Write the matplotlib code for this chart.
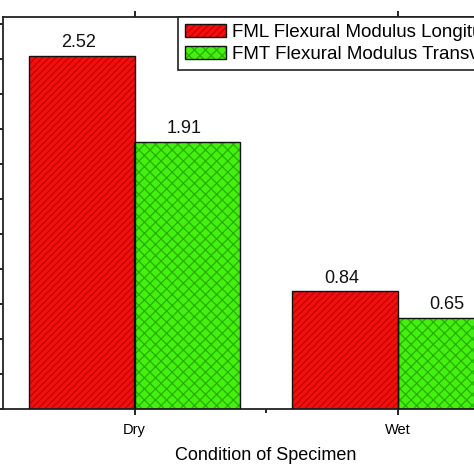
import matplotlib
matplotlib.use("Agg")
import matplotlib.pyplot as plt
import numpy as np
from matplotlib.patches import Patch

plt.rcParams['font.family'] = ['Liberation Sans', 'DejaVu Sans']
plt.rcParams['hatch.linewidth'] = 0.9

categories = ["Dry", "Wet"]
fml_values = [2.52, 0.84]
fmt_values = [1.91, 0.65]
fml_label = "FML Flexural Modulus Longitudinal"
fmt_label = "FMT Flexural Modulus Transverse"
yticks = [0, 0.25, 0.5, 0.75, 1.0, 1.25, 1.5, 1.75, 2.0, 2.25, 2.5, 2.75]

red_face, red_hatch = '#f01010', '#c80000'
green_face, green_hatch = '#44f010', '#28b000'
red_pat, green_pat = '/////', 'xxx'

W = 474
fig = plt.figure(figsize=(4.74, 4.74), dpi=100)
left_px, right_px, top_px, bot_px = 3, 529, 17, 409
ax = fig.add_axes([left_px / W, (W - bot_px) / W,
                   (right_px - left_px) / W, (bot_px - top_px) / W])

x = np.arange(1, len(categories) + 1)
bw = 0.4

def draw(xpos, vals, face, hcol, hatch):
    ax.bar(xpos, vals, bw, color=face, edgecolor=hcol, hatch=hatch, linewidth=0, zorder=2)
    ax.bar(xpos, vals, bw, facecolor='none', edgecolor='#111111', linewidth=1.0, zorder=3)

draw(x - bw / 2, fml_values, red_face, red_hatch, red_pat)
draw(x + bw / 2, fmt_values, green_face, green_hatch, green_pat)

for xs, vals in ((x - bw / 2, fml_values), (x + bw / 2, fmt_values)):
    for xi, v in zip(xs, vals):
        ax.annotate(f"{v:.2f}", (xi, v), xytext=(-2.5, 3.5), textcoords='offset points',
                    ha='center', va='bottom', fontsize=13, color='#111111')

ax.set_xlim(0.5, 2.5)
ax.set_ylim(0, 2.8)
ax.set_xticks(x)
ax.set_xticklabels(categories, fontsize=10.5)
ax.set_xticks([1.5], minor=True)
ax.set_yticks(yticks)
ax.tick_params(axis='x', which='major', direction='out', length=4, width=1.2, top=True, pad=6)
ax.tick_params(axis='x', which='minor', direction='out', length=3, width=1.2, top=False)
ax.tick_params(axis='y', direction='out', length=4, width=1.2)
for s in ax.spines.values():
    s.set_linewidth(1.3)
    s.set_color('#222222')
ax.set_xlabel("Condition of Specimen", fontsize=13, labelpad=7)
ax.set_ylabel("Flexural Modulus (GPa)", fontsize=12)

h1 = (Patch(facecolor=red_face, edgecolor=red_hatch, hatch=red_pat, linewidth=0),
      Patch(facecolor='none', edgecolor='#111111', linewidth=1.0))
h2 = (Patch(facecolor=green_face, edgecolor=green_hatch, hatch=green_pat, linewidth=0),
      Patch(facecolor='none', edgecolor='#111111', linewidth=1.0))
leg = ax.legend([h1, h2], [fml_label, fmt_label], loc='upper left',
                bbox_to_anchor=(178 / W, 1 - top_px / W), bbox_transform=fig.transFigure,
                fontsize=13.5, frameon=True, fancybox=False, framealpha=1,
                edgecolor='#222222', borderpad=0.35, labelspacing=0.3,
                handlelength=2.2, handleheight=0.7, handletextpad=0.35, borderaxespad=0)
leg.get_frame().set_linewidth(1.2)

fig.savefig("out.png", dpi=100)
